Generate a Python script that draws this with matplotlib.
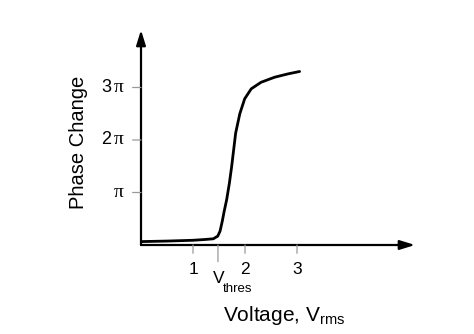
import numpy as np
import matplotlib
matplotlib.use("Agg")
import matplotlib.pyplot as plt

plt.rcParams['font.family'] = ['Liberation Sans', 'DejaVu Sans']
plt.rcParams['mathtext.fontset'] = 'custom'
plt.rcParams['mathtext.rm'] = 'Liberation Sans'

# curve (x in volts, y in units of pi)
volt = [0.0, 0.5, 1.0, 1.23, 1.39, 1.475, 1.52, 1.563, 1.60, 1.648, 1.70, 1.744, 1.82,
        1.90, 1.994, 2.12, 2.31, 2.57, 2.83, 3.05]
phase = [0.065, 0.075, 0.09, 0.105, 0.118, 0.168, 0.263, 0.453, 0.644, 0.867, 1.18, 1.50, 2.13,
         2.50, 2.785, 2.975, 3.10, 3.196, 3.26, 3.305]

xticks = [1, 2, 3]
xticklabels = ['1', '2', '3']
v_thres = 1.48
yticks = [1, 2, 3]
ytick_coef = ['', '2', '3']

fig = plt.figure(figsize=(4.74, 3.34), dpi=100)
W, H = 474, 334
x0, y0, x1, y1 = 141, 245, 415, 30
ax = fig.add_axes([x0 / W, (H - y0) / H, (x1 - x0) / W, (y0 - y1) / H])
ax.set_xlim(0, (x1 - x0) / 52)
ax.set_ylim(0, (y0 - y1) / 52.5)
ax.axis('off')

ax.plot(volt, phase, color='black', lw=2.0, solid_capstyle='round',
        solid_joinstyle='round', zorder=3)

# axes with arrow heads
xmax = ax.get_xlim()[1]
ymax = ax.get_ylim()[1]
arrow = dict(arrowstyle='-|>,head_length=0.9,head_width=0.28', color='black', lw=1.6,
             shrinkA=0, shrinkB=0)
ax.annotate('', xy=(xmax, 0), xytext=(0, 0), arrowprops=arrow, annotation_clip=False)
ax.annotate('', xy=(0, ymax), xytext=(0, 0), arrowprops=arrow, annotation_clip=False)

tick = dict(arrowstyle='-', color='#999999', lw=0.9, shrinkA=0, shrinkB=0)

for xt, lab in zip(xticks, xticklabels):
    ax.annotate('', xy=(xt, 0), xytext=(0, -6), textcoords='offset points',
                arrowprops=tick, annotation_clip=False)
    ax.annotate(lab, xy=(xt, 0), xytext=(0, -12), textcoords='offset points',
                ha='center', va='top', fontsize=12.5, annotation_clip=False)

# threshold voltage: longer tick, V with subscript below the other labels
ax.annotate('', xy=(v_thres, 0), xytext=(0, -12), textcoords='offset points',
            arrowprops=tick, annotation_clip=False)
ax.annotate('V', xy=(v_thres, 0), xytext=(-3.6, -19), textcoords='offset points',
            ha='left', va='top', fontsize=12.5, annotation_clip=False)
ax.annotate('thres', xy=(v_thres, 0), xytext=(3.8, -27), textcoords='offset points',
            ha='left', va='top', fontsize=9.5, annotation_clip=False)

for yt, coef in zip(yticks, ytick_coef):
    ax.annotate('', xy=(0, yt), xytext=(-6, 0), textcoords='offset points',
                arrowprops=tick, annotation_clip=False)
    ax.annotate('\u03c0', xy=(0, yt), xytext=(-12.5, 0), textcoords='offset points',
                ha='right', va='center', fontsize=14, family='Liberation Serif',
                annotation_clip=False)
    if coef:
        ax.annotate(coef, xy=(0, yt), xytext=(-21.5, 0), textcoords='offset points',
                    ha='right', va='center', fontsize=13, annotation_clip=False)

fig.text(78 / W, 1 - 142 / H, 'Phase Change', rotation=90, ha='center', va='center', fontsize=14.5)
fig.text(284 / W, 1 - 321 / H, r'Voltage, V$_{\rm rms}$', ha='center', va='baseline', fontsize=15)

fig.savefig('out.png', dpi=100)
